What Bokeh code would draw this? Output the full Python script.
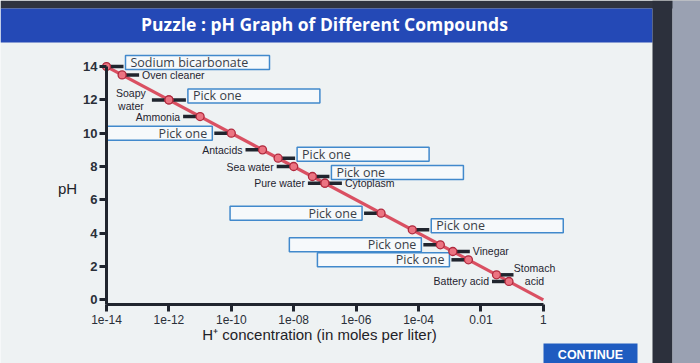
import math
from bokeh.plotting import figure
from bokeh.models import ColumnDataSource, FixedTicker, BoxAnnotation, Label, Range1d
from bokeh.core.properties import value
from bokeh.embed import file_html
from bokeh.resources import INLINE

# ---------------- data ----------------
compounds = ["Sodium bicarbonate", "Oven cleaner", "Soapy\nwater", "Pick one", "Ammonia",
             "Pick one", "Antacids", "Pick one", "Sea water", "Pick one", "Pure water",
             "Cytoplasm", "Pick one", "Pick one", "Pick one", "Vinegar", "Pick one",
             "Stomach\nacid", "Battery acid"]
ph_values = [14, 13.5, 12, 12, 11, 10, 9, 8.5, 8, 7.4, 7, 7, 5.2, 4.2, 3.3, 2.9, 2.4, 1.5, 1.1]
label_side = ["right", "right", "left", "right", "left", "left", "left", "right", "left",
              "right", "left", "right", "left", "right", "left", "right", "left", "right", "left"]
is_dropdown = [True, False, False, True, False, True, False, True, False, True, False,
               False, True, True, True, False, True, False, False]

ph_line = [14, 0]
x_ticks = [1e-14, 1e-12, 1e-10, 1e-08, 1e-06, 1e-04, 1e-02, 1]
x_tick_labels = ["1e-14", "1e-12", "1e-10", "1e-08", "1e-06", "1e-04", "0.01", "1"]
y_ticks = [0, 2, 4, 6, 8, 10, 12, 14]

title_text = "Puzzle : pH Graph of Different Compounds"
x_title = "H\u207a concentration (in moles per liter)"
y_title = "pH"
button_text = "CONTINUE"

# ---------------- layout constants (page pixels) ----------------
W, H = 700, 363
AX_X = 106          # page x of the y axis (1e-14)
PX_PER_DEC = 31.2
Y0 = 299.3          # page y of pH 0
PX_PER_PH = 16.66
XAXIS_Y = 304       # page y of the x axis line

x_start_exp = -14 - AX_X / PX_PER_DEC
x_end_exp = -14 + (W - AX_X) / PX_PER_DEC
y_start = (Y0 - H) / PX_PER_PH
y_end = Y0 / PX_PER_PH
x_axis_ph = (Y0 - XAXIS_Y) / PX_PER_PH

DASH, GAP, PAD = 17, 2, 5
BOX_W = 132
BOX_LIFT = 4        # right-hand dropdowns sit a little above their point
BG = "#eef2f3"
INK = "#20252e"

p = figure(width=W, height=H, x_axis_type="log",
           x_range=Range1d(10 ** x_start_exp, 10 ** x_end_exp),
           y_range=Range1d(y_start, y_end),
           output_backend="svg", toolbar_location=None, title=None,
           min_border=0)
p.background_fill_color = BG
p.border_fill_color = BG
p.outline_line_color = None
p.xgrid.visible = False
p.ygrid.visible = False

# axes (drawn at fixed data locations inside the frame)
p.xaxis.fixed_location = x_axis_ph
p.yaxis.fixed_location = x_ticks[0]
p.xaxis.ticker = FixedTicker(ticks=x_ticks)
p.xaxis.major_label_overrides = {t: l for t, l in zip(x_ticks, x_tick_labels)}
p.xaxis.bounds = (x_ticks[0], x_ticks[-1])
p.yaxis.ticker = FixedTicker(ticks=y_ticks)
p.yaxis.bounds = (x_axis_ph, y_ticks[-1])
for ax in (p.xaxis[0], p.yaxis[0]):
    ax.axis_line_width = 3
    ax.axis_line_color = INK
    ax.major_tick_line_width = 3
    ax.major_tick_line_color = INK
    ax.major_tick_out = 7
    ax.major_tick_in = 0
    ax.minor_tick_line_color = None
    ax.major_label_text_color = "#2a2f38"
    ax.major_label_text_font = "Liberation Sans"
p.xaxis.major_label_standoff = 3
p.xaxis.major_label_text_font_size = "12px"
p.yaxis.major_label_standoff = 2
p.yaxis.major_label_text_font_size = "13px"
p.yaxis.major_label_text_font_style = "bold"

# ---------------- background decoration (screen units = page px, y from bottom) ----------------
def pbox(x0, x1, y0, y1, color):
    return BoxAnnotation(left=x0, right=x1, top=H - y0, bottom=H - y1,
                         left_units="screen", right_units="screen",
                         top_units="screen", bottom_units="screen",
                         fill_color=color, fill_alpha=1, line_color=None, level="underlay")

p.add_layout(pbox(0, W, 0, 8, "#30343f"))
p.add_layout(pbox(0, 652, 8, 42, "#2449b6"))
p.add_layout(pbox(652, 672, 0, H, "#2c303c"))
p.add_layout(pbox(672, W, 0, H, "#9aa1b2"))
p.add_layout(pbox(543, 637, 343, H, "#1f5cc0"))

def plabel(x, y, text, **kw):
    return Label(x=x, y=H - y, x_units="screen", y_units="screen", text=text,
                 text_align="center", text_baseline="middle", **kw)

p.add_layout(plabel(324, 23, title_text, text_color="white", text_font="Open Sans",
                    text_font_size="17.5px", text_font_style="bold"))
p.add_layout(plabel(590, 354, button_text, text_color="white", text_font="Liberation Sans",
                    text_font_size="12.5px", text_font_style="bold"))
p.add_layout(plabel(319, 334, x_title, text_color="#1e2228", text_font="Liberation Sans",
                    text_font_size="15px"))
p.add_layout(plabel(67, 188, y_title, text_color="#1e2228", text_font="Liberation Sans",
                    text_font_size="15px"))

# ---------------- data marks ----------------
h_conc = [10.0 ** -v for v in ph_values]
sign = [1 if s == "right" else -1 for s in label_side]
dash_end = [h * 10 ** (s * DASH / PX_PER_DEC) for h, s in zip(h_conc, sign)]

# pH line
p.line([10.0 ** -v for v in ph_line], ph_line, line_color="#d8475a", line_width=3.2, line_alpha=0.95)

# dashes
p.segment(x0=h_conc, y0=ph_values, x1=dash_end, y1=ph_values, line_color=INK, line_width=3.5)

# dropdown boxes
bx, by, bw, bh, bt, btx, bta = [], [], [], [], [], [], []
for name, ph, h, s, dd in zip(compounds, ph_values, h_conc, sign, is_dropdown):
    if not dd:
        continue
    w = 144 if name == "Sodium bicarbonate" else BOX_W
    if s < 0:
        # keep left-hand boxes to the right of the y axis
        room = (math.log10(h) - math.log10(x_ticks[0])) * PX_PER_DEC - DASH - GAP
        w = min(w, room)
    lift = BOX_LIFT if s > 0 else 0
    bx.append(h * 10 ** (s * (DASH + GAP + w / 2) / PX_PER_DEC))
    by.append(ph + lift / PX_PER_PH)
    bh.append(h)
    bw.append(w)
    bt.append(name)
    btx.append(s * (DASH + GAP + PAD))
    bta.append("left" if s > 0 else "right")
box_src = ColumnDataSource(dict(x=bx, y=by, w=bw))
p.rect(x="x", y="y", width="w", height=14, width_units="screen", height_units="screen",
       source=box_src, fill_color="#f6f9fc", fill_alpha=0.9, line_color="#4189cc", line_width=1.5)
box_txt = ColumnDataSource(dict(x=bh, y=by, t=bt, xo=btx, a=bta))
p.text(x="x", y="y", text="t", x_offset="xo", text_align="a", text_baseline="middle",
       source=box_txt, text_font=value("Open Sans"), text_font_size="12.5px", text_color="#3a3f48")

# plain labels
lx, ly, lt, lxo, la = [], [], [], [], []
for name, ph, h, s, dd in zip(compounds, ph_values, h_conc, sign, is_dropdown):
    if dd:
        continue
    lx.append(h)
    ly.append(ph)
    lt.append(name)
    if "\n" in name:
        lxo.append(s * (DASH + 21))
        la.append("center")
    else:
        lxo.append(s * (DASH + 3))
        la.append("left" if s > 0 else "right")
lab_src = ColumnDataSource(dict(x=lx, y=ly, t=lt, xo=lxo, a=la))
p.text(x="x", y="y", text="t", x_offset="xo", text_align="a", text_baseline="middle",
       source=lab_src, text_font=value("Liberation Sans"), text_font_size="10.5px",
       text_color="#1f2430", text_line_height=1.1)

# points
p.scatter(h_conc, ph_values, size=8, fill_color="#ec7482", line_color="#b02a3e", line_width=1.3)

open("out.html", "w").write(file_html(p, INLINE))
